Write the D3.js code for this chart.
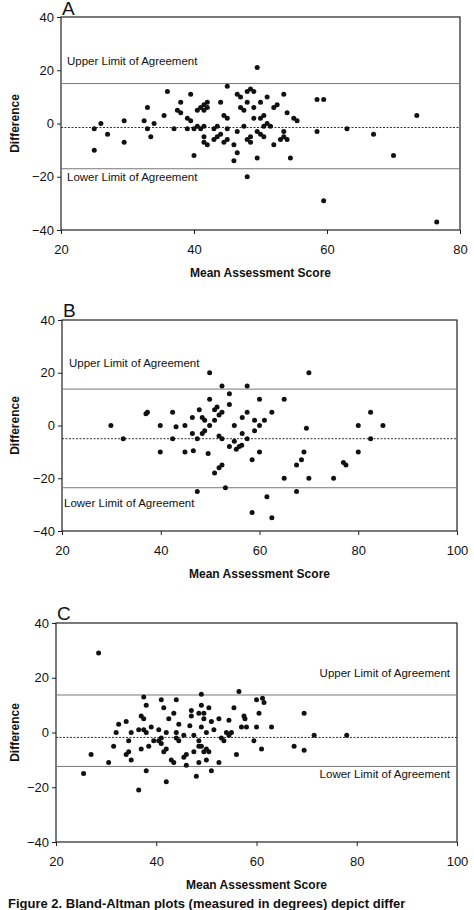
<!DOCTYPE html>
<html><head><meta charset="utf-8">
<script src="https://cdn.jsdelivr.net/npm/d3@7"></script>
<style>body{margin:0;background:#fff}text{font-family:"Liberation Sans",Arial,sans-serif;fill:#111}</style>
</head><body>
<svg id="c" width="474" height="910"></svg>
<script>
const xA=[25,25,26,27,29.5,29.5,32.5,33,33,33.5,34,35.5,36,37,37.5,38,38,39,39,39.5,39.5,40,40,40.5,40.5,41,41,41.5,41.5,41.5,41.5,41.5,42,42,42,43,43,43.5,43.5,44,44,44.5,44.5,45,45,45,45,46,46,46.5,46.5,46.5,47,47,47.5,47.5,48,48,48,48,48.5,48.5,48.5,49,49,49,49.5,49.5,49.5,50,50,50,50.5,50.5,50.5,51,51,51.5,52,52,52.5,53,53.5,53.5,53.5,54,54,54.5,55,55.5,58.5,58.5,59.5,59.5,63,67,70,73.5,76.5];
const yA=[-10,-2,0,-4,1,-7,1,6,-2,-5,0,3,12,-2,5,8,4,2,-2,11,1,-12,-2,5,-1,6,-2,7,5,-1,-5,-7,8,6,-8,-2,-6,-1,-5,8,-4,3,-7,14,2,-2,-6,-8,-14,11,-3,-11,10,6,5,-1,12,8,-6,-20,13,-5,-7,12,6,2,21,-3,-13,8,2,-4,3,-1,-5,10,0,-1,6,-8,7,-6,11,-3,-5,4,-6,-13,2,1,9,-3,9,-29,-2,-4,-12,3,-37];
const xB=[29.9,32.4,37,37.3,39.9,39.9,42.4,42.4,43.1,44.9,44.9,46.4,46.4,46.6,47.4,47.4,47.8,48.4,48.4,48.9,48.9,49.6,49.9,49.9,49.9,50.9,50.9,50.9,51.4,51.8,51.8,51.8,52.4,52.4,52.4,52.4,53.1,53.9,53.9,53.9,54.9,54.9,55.3,55.9,56.4,56.5,56.5,57.5,57.5,57.5,58.5,58.5,59,59,60,60,60,61,61.5,62.5,62.5,65,65,67.5,67.5,68.5,69,69.5,70,70,75,77,77.5,80,80,82.5,82.5,85];
const yB=[0,-5,4.5,5,0,-10,5,-5,-0.5,0,-10,3,-3,-9.6,-5,-25,6,3,-3,2,-2,-10.6,20,10,0,2,6,-18,7,4,-4,-16,15,5,-5,-15,-23.6,12,8,-8,0,-6,-9,-8,-7.5,3,-3,15,5,-5,-13,-33,2,-2,10,0,-10,2,-27,5,-35,10,-20,-15,-25,-13,-10,-1,20,-20,-20,-14,-15,0,-10,5,-5,0];
const xC=[28.5,25.5,27,30.5,31.5,32,32.5,34,34,34.5,34.5,35,35,36.5,36.5,37,37,37.5,37.5,37.5,38,38,38,38.5,39,39.5,40.5,40.5,41,41,41,41.5,41.5,42,42,42,42.5,43,43.5,43.5,44,44,44,44.5,44.5,45.5,45.5,46,46,47,47,46.7,47.5,47.5,48,48.5,48.5,48.5,48.5,49,49,49,49,49.5,49.5,49.5,50,50,50,50.5,50.5,51,51,51.5,52.5,52.5,53,53.5,54,54.5,54.5,55,55.5,56,56.5,57,57.5,57.7,58,59.5,60,60,60.5,61,61.2,61.5,63,67.5,69.5,69.5,71.5,78];
const yC=[29,-15,-8,-11,-5,0,3,4,-8,-3,-7,0,-10,1,-21,6,-6,13,5,1,10,0,-14,-5,2,-3,1,-3,12,-2,-4,9,-7,0,-6,-18,5,-10,7,-11,12,0,-2,3,-3,-1,-9,-8,-12,6,8,2.5,-1,-7,-16,7,-3,-5,-11,14,10,2,-5,7,5,-7,0,-6,-10,9,-7,4,-14,1,5,-11,-2,-3,0,4.5,-1,0,9,-8,15,2,6,5,2,-3,12,2,7,-6,12.5,11,2,-5,7,-6.5,-1,-1];
const yTicks=[-40,-20,0,20,40];
const panels=[
 {id:"A",x:xA,y:yA,xd:[20,80],xt:[20,40,60,80],loa:[15,-1.5,-17],box:[61,17,460,230],lab:"left",upY:65,loY:181,upX:67,loX:67},
 {id:"B",x:xB,y:yB,xd:[20,100],xt:[20,40,60,80,100],loa:[13.8,-5,-23.6],box:[62,320,457,531],lab:"left",upY:367,loY:507,upX:69,loX:64},
 {id:"C",x:xC,y:yC,xd:[20,100],xt:[20,40,60,80,100],loa:[13.7,-1.8,-12.4],box:[56,623,457,842],lab:"right",upY:677,loY:778,upX:450,loX:450}
];
const svg=d3.select("#c");
panels.forEach(p=>{
 const [l,t,r,b]=p.box;
 const x=d3.scaleLinear().domain(p.xd).range([l,r]);
 const y=d3.scaleLinear().domain([-40,40]).range([b,t]);
 const g=svg.append("g");
 g.append("rect").attr("x",l).attr("y",t).attr("width",r-l).attr("height",b-t).attr("fill","none").attr("stroke","#222").attr("stroke-width",1.2);
 const ax=g.append("g").attr("transform",`translate(0,${b})`).call(d3.axisBottom(x).tickValues(p.xt).tickSize(4).tickFormat(d3.format("d")));
 const ay=g.append("g").attr("transform",`translate(${l},0)`).call(d3.axisLeft(y).tickValues(yTicks).tickSize(4).tickFormat(d3.format("d")));
 [ax,ay].forEach(a=>{a.select(".domain").remove();a.selectAll("text").attr("font-size",13).attr("fill","#111").style("font-family","Liberation Sans, Arial");a.selectAll("line").attr("stroke","#222");});
 ax.selectAll("text").attr("dy","1.3em");
 g.selectAll("line.loa").data(p.loa).enter().append("line").attr("x1",l).attr("x2",r).attr("y1",d=>y(d)).attr("y2",d=>y(d))
  .attr("stroke",(d,i)=>i==1?"#333":"#777").attr("stroke-width",1).attr("stroke-dasharray",(d,i)=>i==1?"2,1.5":null);
 g.selectAll("circle").data(p.x).enter().append("circle").attr("cx",d=>x(d)).attr("cy",(d,i)=>y(p.y[i])).attr("r",2.5).attr("fill","#111");
 const anc=p.lab=="left"?"start":"end";
 g.append("text").attr("x",p.upX).attr("y",p.upY).attr("text-anchor",anc).attr("font-size",11.5).text("Upper Limit of Agreement");
 g.append("text").attr("x",p.loX).attr("y",p.loY).attr("text-anchor",anc).attr("font-size",11.5).text("Lower Limit of Agreement");
 g.append("text").attr("x",l+1).attr("y",Math.max(t-3,15)).attr("font-size",19).text(p.id);
 g.append("text").attr("x",(l+r)/2).attr("y",b+47).attr("text-anchor","middle").attr("font-size",12).attr("font-weight","bold").text("Mean Assessment Score");
 g.append("text").attr("transform",`translate(19,${(t+b)/2}) rotate(-90)`).attr("text-anchor","middle").attr("font-size",12).attr("font-weight","bold").text("Difference");
});
svg.append("text").attr("x",8).attr("y",908).attr("font-size",13).attr("font-weight","bold").text("Figure 2. Bland-Altman plots (measured in degrees) depict differ");
</script></body></html>
